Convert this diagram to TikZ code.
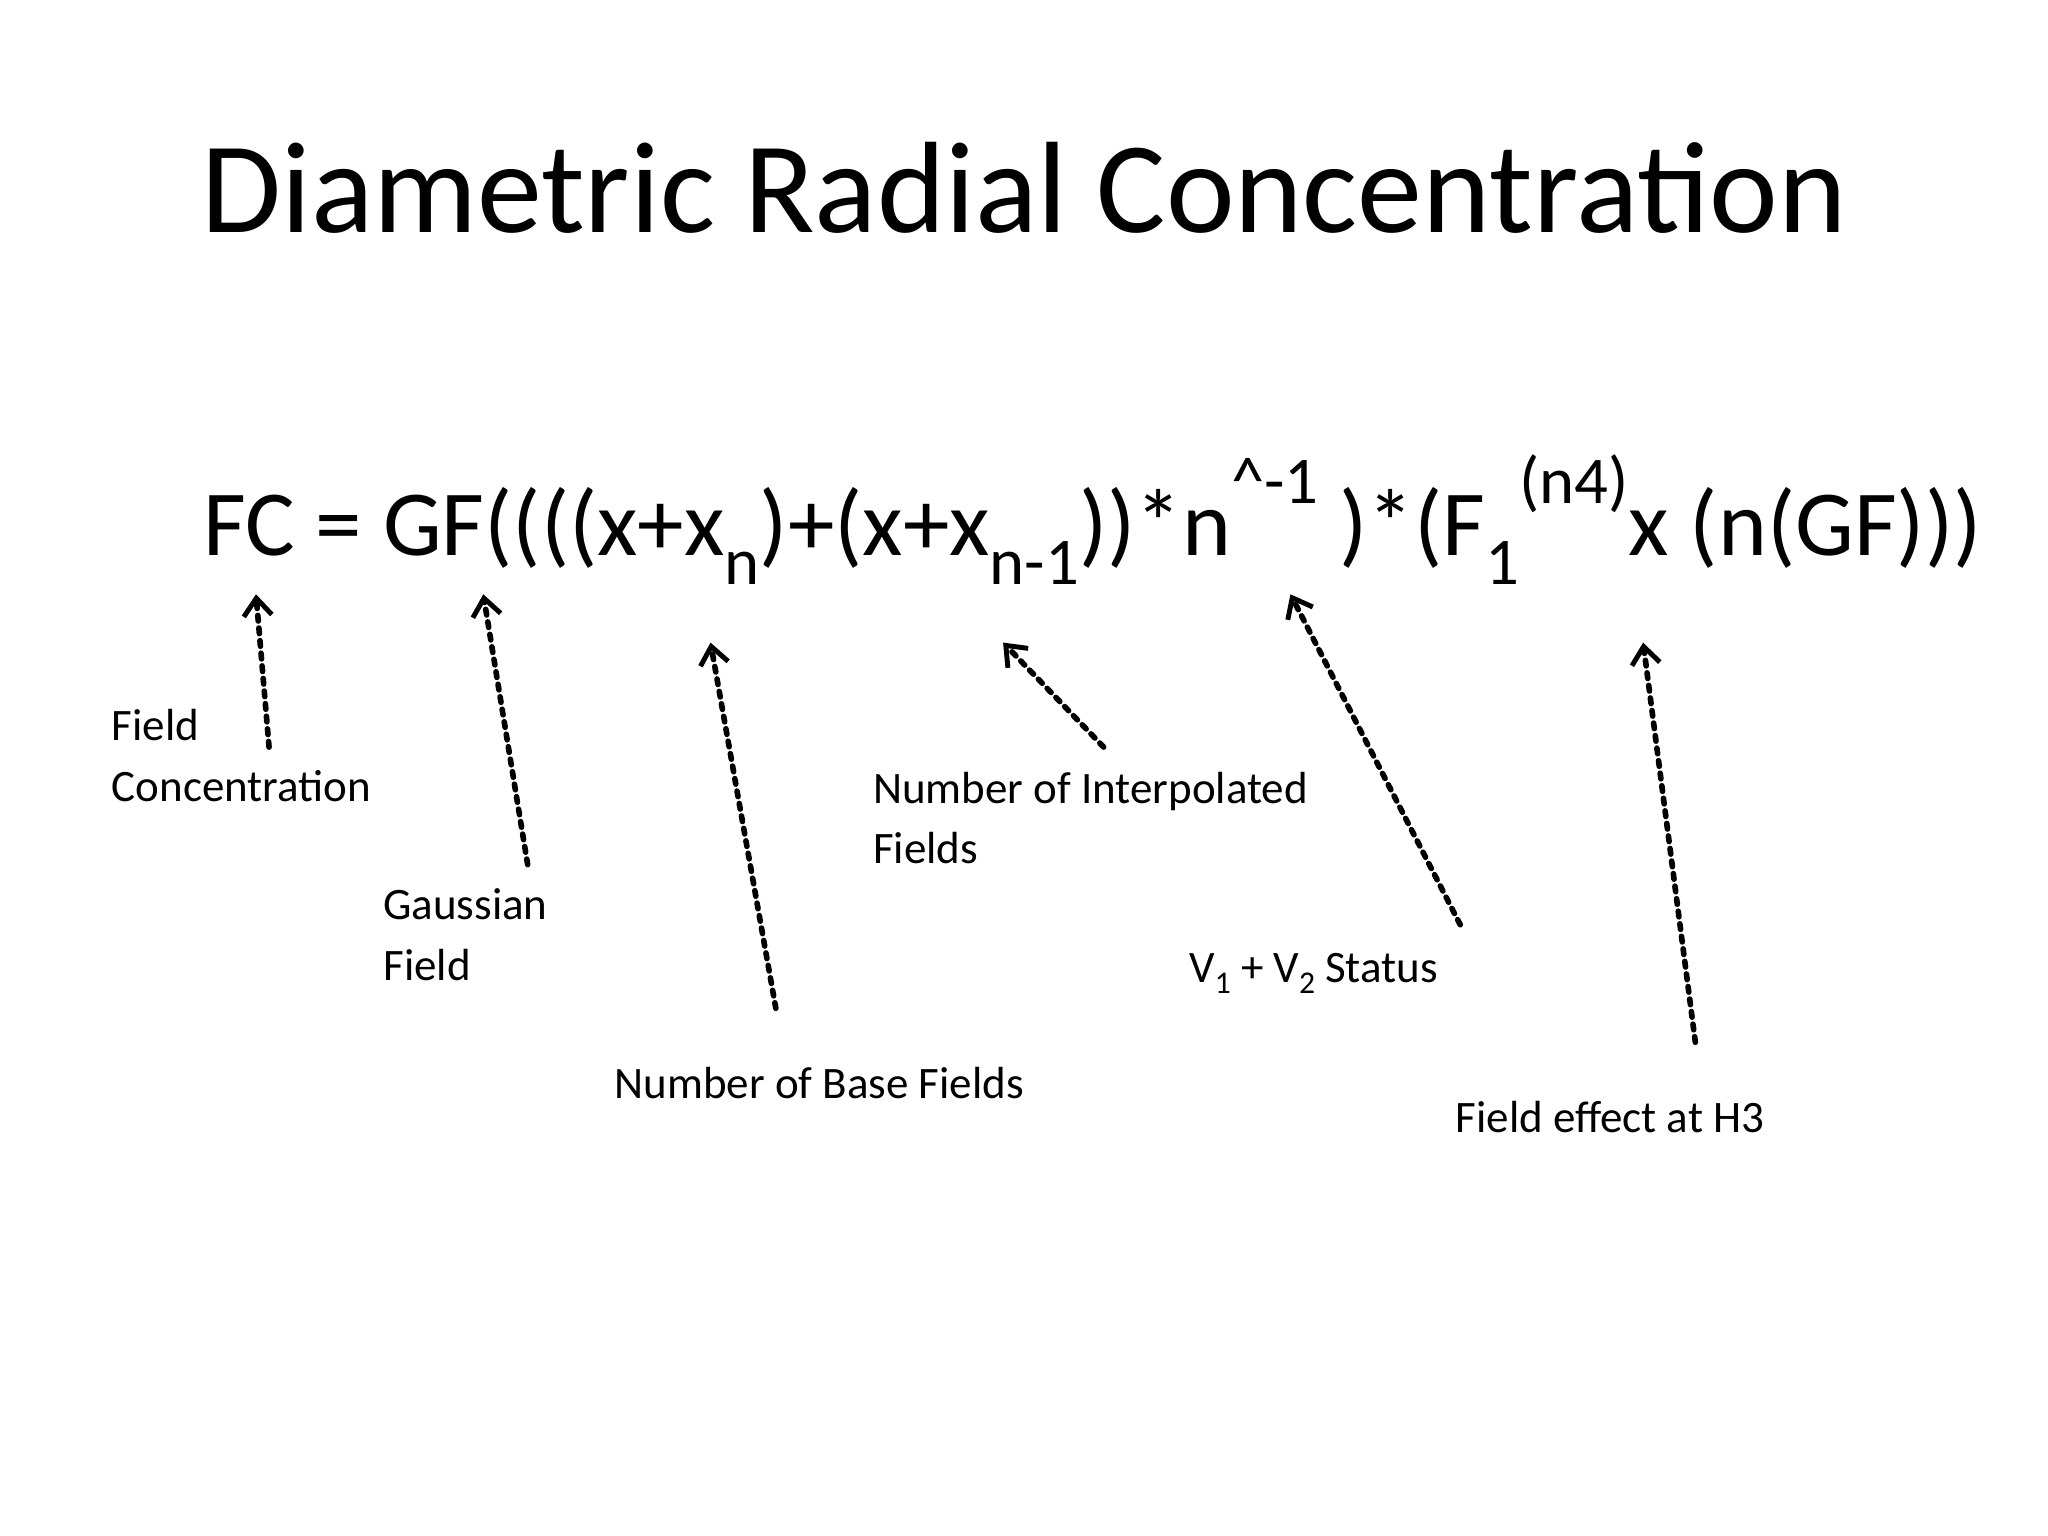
\documentclass[tikz,border=0pt]{standalone}
\usepackage{fontspec}
\setmainfont{Carlito}
\usetikzlibrary{arrows.meta}
\newcommand{\lowr}[1]{\raisebox{-0.32em}{\fontsize{19}{19}\selectfont #1}}
\newcommand{\highr}[1]{\raisebox{0.55em}{\fontsize{19}{19}\selectfont #1}}
\newcommand{\lowsm}[1]{\raisebox{-0.25em}{\fontsize{9}{9}\selectfont #1}}
\begin{document}
\begin{tikzpicture}[x=0.01306cm,y=-0.01306cm,
  lbl/.style={anchor=base west,inner sep=0pt,font=\fontsize{12.8}{14}\selectfont},
  ptr/.style={line width=1.6pt,dotted,line cap=round,-{Straight Barb[length=5pt,width=8pt,line width=1.4pt]}}]
\useasboundingbox[fill=white] (0,0) rectangle (1568,1176);
\node[inner sep=0pt,font=\fontsize{37}{40}\selectfont,anchor=base] (title) at (784,178) {Diametric Radial Concentration};
\node[inner sep=0pt,font=\fontsize{26.5}{30}\selectfont,anchor=base west] (eq) at (155,425)
 {FC = GF((((x+x\lowr{n})+(x+x\lowr{n-1}))*n\highr{\^{}-1} )*(F\lowr{1}\highr{(n4)}x (n(GF)))};
\node[lbl] (l1a) at (85,567) {Field};
\node[lbl] (l1b) at (85,614) {Concentration};
\node[lbl] (l2a) at (293,704) {Gaussian};
\node[lbl] (l2b) at (293,751) {Field};
\node[lbl] (l3) at (470,841) {Number of Base Fields};
\node[lbl] (l4a) at (668,615) {Number of Interpolated};
\node[lbl] (l4b) at (668,661) {Fields};
\node[lbl] (l5) at (910,752) {V\lowsm{1} + V\lowsm{2} Status};
\node[lbl] (l6) at (1114,867) {Field effect at H3};
\coordinate (s1) at (206,572); \coordinate (e1) at (196,455);
\coordinate (s2) at (404,662); \coordinate (e2) at (370,455);
\coordinate (s3) at (594,772); \coordinate (e3) at (544,492);
\coordinate (s4) at (845,572); \coordinate (e4) at (768,492);
\coordinate (s5) at (1118,708); \coordinate (e5) at (988,455);
\coordinate (s6) at (1298,798); \coordinate (e6) at (1258,492);
\foreach \i in {1,...,6}{\draw[ptr] (s\i) -- (e\i);}
\end{tikzpicture}
\end{document}
